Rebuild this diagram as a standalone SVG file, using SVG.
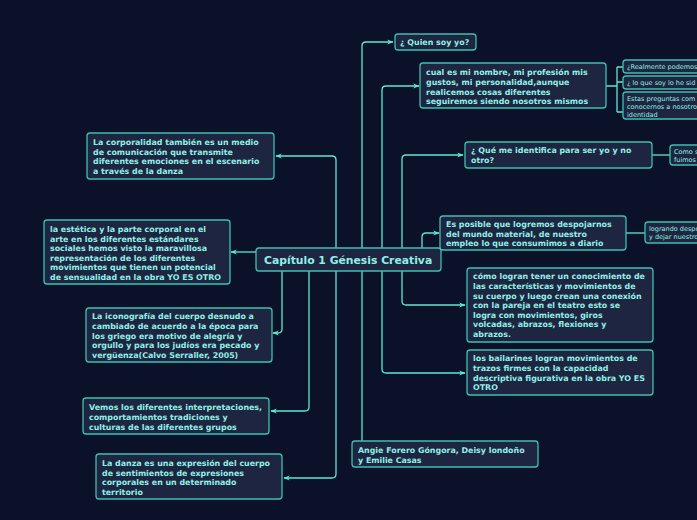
<svg xmlns="http://www.w3.org/2000/svg" width="697" height="520" viewBox="0 0 697 520">
<defs>
<marker id="a" viewBox="0 0 10 10" refX="9" refY="5" markerWidth="5" markerHeight="5" orient="auto"><path d="M0,1 L10,5 L0,9 L3,5z" fill="#5ee6d6"/></marker>
<style>
.n{fill:#1e2540;stroke:#3fbfb0;stroke-width:1.3}
.t{font-family:"DejaVu Sans",sans-serif;font-weight:bold;font-size:7.9px;fill:#8ff0e6}
.s{font-family:"DejaVu Sans",sans-serif;font-size:6.5px;fill:#8ff0e6}
.c{fill:none;stroke:#5ee6d6;stroke-width:1.3;marker-end:url(#a)}
.c2{fill:none;stroke:#5ee6d6;stroke-width:1.3}
</style>
</defs>
<rect width="697" height="520" fill="#0b1128"/>
<g id="connectors">
<path class="c" d="M256,252 H231"/>
<path class="c" d="M336,248 V160 Q336,156 332,156 H276"/>
<path class="c" d="M336,271 V474 Q336,478 332,478 H284"/>
<path class="c" d="M282,271 V329 Q282,333 278,333 H273"/>
<path class="c" d="M309,271 V407 Q309,411 305,411 H271"/>
<path class="c" d="M362,248 V46 Q362,42 366,42 H393"/>
<path class="c2" d="M362,271 V441"/>
<path class="c" d="M382,248 V90 Q382,86 386,86 H419"/>
<path class="c" d="M382,271 V369 Q382,373 386,373 H465"/>
<path class="c" d="M402,248 V159 Q402,155 406,155 H463"/>
<path class="c" d="M402,271 V301 Q402,305 406,305 H465"/>
<path class="c" d="M422,248 V237 Q422,233 426,233 H439"/>
<path class="c2" d="M606,86 H617 M617,67 V112 M617,67 H623 M617,82 H623 M617,112 H623"/>
<path class="c2" d="M652,155 H670"/>
<path class="c2" d="M626,233 H645"/>
</g>
<g id="center"><rect class="n" x="256" y="248" width="185" height="23" rx="3"/><text x="264" y="264" class="t" style="font-size:10.8px">Capítulo 1 Génesis Creativa</text></g>
<g id="n-quien"><rect class="n" x="395" y="34" width="81" height="16" rx="3"/><text class="t" x="400" y="45">¿ Quien soy yo?</text></g>
<g id="n-cual"><rect class="n" x="420" y="63" width="186" height="45" rx="3"/><text class="t" x="426"><tspan x="426" y="75">cual es mi nombre, mi profesión mis</tspan><tspan x="426" y="85">gustos, mi personalidad,aunque</tspan><tspan x="426" y="95">realicemos cosas diferentes</tspan><tspan x="426" y="104">seguiremos siendo nosotros mismos</tspan></text></g>
<g id="n-r1"><rect class="n" x="623" y="60" width="90" height="13" rx="3"/><text class="s" x="627" y="69">¿Realmente podemos</text></g>
<g id="n-r2"><rect class="n" x="623" y="76" width="90" height="13" rx="3"/><text class="s" x="627" y="85">¿ lo que soy lo he sid</text></g>
<g id="n-r3"><rect class="n" x="623" y="92" width="90" height="27" rx="3"/><text class="s"><tspan x="627" y="101">Estas preguntas com</tspan><tspan x="627" y="109">conocernos a nosotro</tspan><tspan x="627" y="117">identidad</tspan></text></g>
<g id="n-que"><rect class="n" x="465" y="142" width="187" height="26" rx="3"/><text class="t"><tspan x="471" y="153">¿ Qué me identifica para ser yo y no</tspan><tspan x="471" y="163">otro?</tspan></text></g>
<g id="n-como"><rect class="n" x="670" y="145" width="40" height="20" rx="3"/><text class="s"><tspan x="674" y="154">Como s</tspan><tspan x="674" y="162">fuimos</tspan></text></g>
<g id="n-es"><rect class="n" x="440" y="216" width="186" height="34" rx="3"/><text class="t"><tspan x="446" y="227">Es posible que logremos despojarnos</tspan><tspan x="446" y="237">del mundo material, de nuestro</tspan><tspan x="446" y="246">empleo lo que consumimos a diario</tspan></text></g>
<g id="n-log"><rect class="n" x="645" y="222" width="60" height="21" rx="3"/><text class="s"><tspan x="649" y="231">logrando despo</tspan><tspan x="649" y="239">y dejar nuestro</tspan></text></g>
<g id="n-cl"><rect class="n" x="467" y="268" width="186" height="74" rx="3"/><text class="t"><tspan x="473" y="279">cómo logran tener un conocimiento de</tspan><tspan x="473" y="289">las características y movimientos de</tspan><tspan x="473" y="299">su cuerpo y luego crean una conexión</tspan><tspan x="473" y="308">con la pareja en el teatro  esto se</tspan><tspan x="473" y="318">logra con movimientos, giros</tspan><tspan x="473" y="327">volcadas, abrazos, flexiones y</tspan><tspan x="473" y="337">abrazos.</tspan></text></g>
<g id="n-bai"><rect class="n" x="467" y="350" width="186" height="45" rx="3"/><text class="t"><tspan x="473" y="361">los bailarines logran movimientos de</tspan><tspan x="473" y="371">trazos firmes con la capacidad</tspan><tspan x="473" y="381">descriptiva figurativa en la obra YO ES</tspan><tspan x="473" y="390">OTRO</tspan></text></g>
<g id="n-angie"><rect class="n" x="352" y="441" width="186" height="26" rx="3"/><text class="t"><tspan x="358" y="453">Angie Forero Góngora, Deisy londoño</tspan><tspan x="358" y="463">y Emilie Casas</tspan></text></g>
<g id="n-corp"><rect class="n" x="87" y="133" width="187" height="46" rx="3"/><text class="t"><tspan x="93" y="145">La corporalidad también es un medio</tspan><tspan x="93" y="155">de comunicación que transmite</tspan><tspan x="93" y="164">diferentes emociones en el escenario</tspan><tspan x="93" y="174">a través de la danza</tspan></text></g>
<g id="n-est"><rect class="n" x="44" y="220" width="186" height="64" rx="3"/><text class="t"><tspan x="50" y="232">la estética y la parte corporal en el</tspan><tspan x="50" y="242">arte en los diferentes estándares</tspan><tspan x="50" y="251">sociales hemos visto la maravillosa</tspan><tspan x="50" y="261">representación de los diferentes</tspan><tspan x="50" y="270">movimientos  que tienen un potencial</tspan><tspan x="50" y="280">de sensualidad en la obra YO ES OTRO</tspan></text></g>
<g id="n-ico"><rect class="n" x="86" y="308" width="186" height="54" rx="3"/><text class="t"><tspan x="92" y="319">La iconografía del cuerpo desnudo a</tspan><tspan x="92" y="329">cambiado de acuerdo a la época para</tspan><tspan x="92" y="339">los griego era motivo de alegría y</tspan><tspan x="92" y="348">orgullo y para los judíos era pecado y</tspan><tspan x="92" y="358">vergüenza(Calvo Serraller, 2005)</tspan></text></g>
<g id="n-vem"><rect class="n" x="83" y="398" width="186" height="36" rx="3"/><text class="t"><tspan x="89" y="410">Vemos los diferentes interpretaciones,</tspan><tspan x="89" y="420">comportamientos tradiciones y</tspan><tspan x="89" y="430">culturas de las diferentes grupos</tspan></text></g>
<g id="n-dan"><rect class="n" x="96" y="454" width="186" height="45" rx="3"/><text class="t"><tspan x="102" y="466">La danza es una expresión del cuerpo</tspan><tspan x="102" y="476">de sentimientos de expresiones</tspan><tspan x="102" y="485">corporales en un determinado</tspan><tspan x="102" y="495">territorio</tspan></text></g>
</svg>
